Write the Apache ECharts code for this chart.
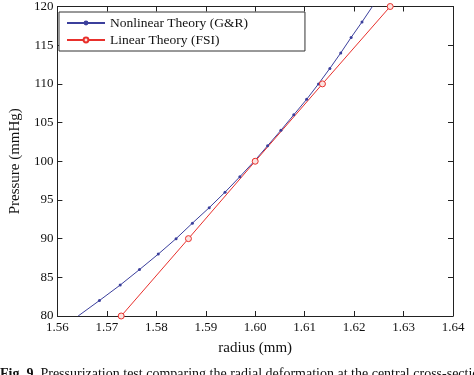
<!DOCTYPE html>
<html><head><meta charset="utf-8">
<script src="https://cdn.jsdelivr.net/npm/echarts@6/dist/echarts.min.js"></script>
<style>html,body{margin:0;padding:0;background:#fff}#c{width:474px;height:375px}</style>
</head><body><div id="c"></div>
<script>
const pressureNL = [80,82,84,86,88,90,92,94,96,98,100,102,104,106,108,110,112,114,116,118,120];
const radiusNL = [1.5642,1.5685,1.5727,1.5766,1.5804,1.5840,1.5873,1.5907,1.5939,1.5969,1.5998,1.6025,1.6052,1.6078,1.6104,1.6128,1.6151,1.6173,1.6194,1.6216,1.6237];
const pressureLin = [80,90,100,110,120];
const radiusLin = [1.5729,1.5865,1.6000,1.6136,1.6273];
const xTickLabels = ['1.56','1.57','1.58','1.59','1.60','1.61','1.62','1.63','1.64'];
const yTickLabels = ['80','85','90','95','100','105','110','115','120'];
const seriesNames = ['Nonlinear Theory (G&R)','Linear Theory (FSI)'];
const captionHead = 'Fig. 9';
const captionBody = '  Pressurization test comparing the radial deformation at the central cross-section';

const F = 'Liberation Serif, DejaVu Serif, serif';
const chart = echarts.init(document.getElementById('c'), null, {renderer:'canvas'});
const nlData = radiusNL.map((r,i)=>{
  const d = {value:[r, pressureNL[i]]};
  if (i===0 || i===radiusNL.length-1) d.symbol='none';
  return d;
});
const linData = radiusLin.map((r,i)=>[r, pressureLin[i]]);
const xmin = parseFloat(xTickLabels[0]), xmax = parseFloat(xTickLabels[xTickLabels.length-1]);
const ymin = parseFloat(yTickLabels[0]), ymax = parseFloat(yTickLabels[yTickLabels.length-1]);
const axisCommon = {
  axisLine:{show:true,lineStyle:{color:'#222',width:1}},
  axisTick:{show:true,inside:true,length:5,lineStyle:{color:'#222'}},
  splitLine:{show:false}
};
chart.setOption({
  animation:false,
  grid:{left:55,right:21,top:5,bottom:59,containLabel:false},
  xAxis:[
    Object.assign({type:'value',min:xmin,max:xmax,interval:0.01,position:'bottom',
      name:'radius (mm)',nameLocation:'middle',nameGap:25,
      nameTextStyle:{fontFamily:F,fontSize:15,color:'#111'},
      axisLabel:{fontFamily:F,fontSize:13,color:'#111',margin:5,
        formatter:v=>xTickLabels[Math.round((v-xmin)/0.01)]}},axisCommon),
    Object.assign({type:'value',min:xmin,max:xmax,interval:0.01,position:'top',axisLabel:{show:false}},axisCommon)
  ],
  yAxis:[
    Object.assign({type:'value',min:ymin,max:ymax,interval:5,position:'left',
      name:'Pressure (mmHg)',nameLocation:'middle',nameGap:29,
      nameTextStyle:{fontFamily:F,fontSize:15,color:'#111'},
      axisLabel:{fontFamily:F,fontSize:13,color:'#111',margin:4,
        formatter:v=>yTickLabels[Math.round((v-ymin)/5)]}},axisCommon),
    Object.assign({type:'value',min:ymin,max:ymax,interval:5,position:'right',axisLabel:{show:false}},axisCommon)
  ],
  legend:{
    orient:'vertical',left:59,top:12,
    data:seriesNames,
    itemWidth:38,itemHeight:6,itemGap:3,
    padding:[4,57,4,7],
    borderColor:'#333',borderWidth:1,backgroundColor:'#fff',
    textStyle:{fontFamily:F,fontSize:13.5,color:'#111'}
  },
  series:[
    {name:seriesNames[0],type:'line',data:nlData,smooth:false,
      symbol:'circle',symbolSize:3,showSymbol:true,
      lineStyle:{color:'#3b3f9c',width:1},
      itemStyle:{color:'#3b3f9c'}},
    {name:seriesNames[1],type:'line',data:linData,
      symbol:'circle',symbolSize:6,
      lineStyle:{color:'#e8302c',width:1},
      itemStyle:{color:'#fbe3e0',borderColor:'#e8302c',borderWidth:1}}
  ],
  graphic:[{type:'text',left:0,top:367,style:{
    text:'{b|'+captionHead+'}{n|'+captionBody+'}',
    rich:{b:{font:'bold 14px '+F,fill:'#111'},n:{font:'14px '+F,fill:'#111'}}}}]
});
</script></body></html>
